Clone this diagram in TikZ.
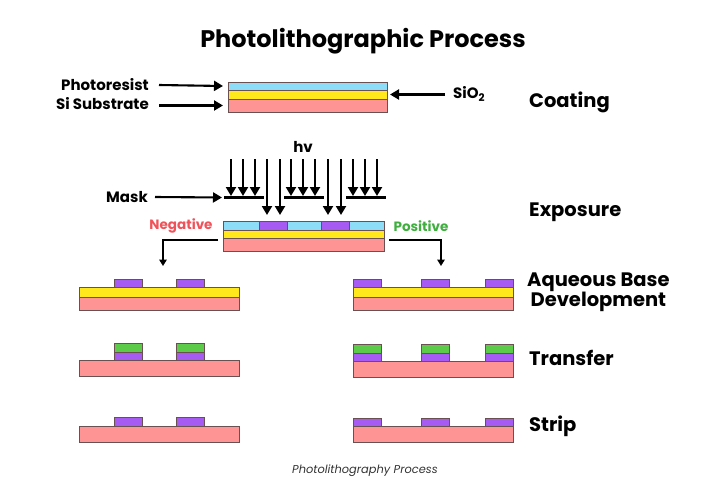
\documentclass[tikz,border=0pt]{standalone}
\usepackage{fontspec}
\setmainfont{Poppins}
\usetikzlibrary{arrows.meta}
\definecolor{cya}{HTML}{8EDDF8}
\definecolor{yel}{HTML}{FFE81C}
\definecolor{pnk}{HTML}{FF9494}
\definecolor{pur}{HTML}{A65CF2}
\definecolor{grn}{HTML}{5CCB4A}
\definecolor{negc}{HTML}{F0525A}
\definecolor{posc}{HTML}{3FAE3F}
\definecolor{edge}{HTML}{6A5050}
\newcommand\lay[6]{\node[lay,fill=#2,minimum width=#5pt,minimum height=#6pt] (#1) at (#3,#4) {};}
\begin{document}
\begin{tikzpicture}[x=1pt,y=-1pt,
  lay/.style={draw=edge,line width=0.5pt,inner sep=0pt,outer sep=0pt,anchor=north west},
  arr/.style={line width=2.1pt,-{Triangle[length=9pt,width=10pt]}},
  sarr/.style={line width=2pt,-{Triangle[length=9pt,width=10pt]}},
  barr/.style={line width=1.8pt,-{Triangle[length=6.5pt,width=7.5pt]}},
  masks/.style={fill=black,inner sep=0pt,outer sep=0pt,minimum height=3pt,anchor=west},
  lbl/.style={font=\fontsize{15}{17}\selectfont\bfseries,inner sep=0pt},
  step lbl/.style={font=\fontsize{19.5}{20.5}\selectfont\bfseries,inner sep=0pt,anchor=west,align=center}]
\useasboundingbox (0,0) rectangle (720,501);
\node[font=\fontsize{24}{26}\selectfont\bfseries] (title) at (363,41) {Photolithographic Process};
% Coating stack
\lay{cPk}{pnk}{228}{99}{159}{13}
\lay{cYe}{yel}{228}{90}{159}{9}
\lay{cCy}{cya}{228}{82}{159}{8}
\node[lbl,anchor=east] (pr) at (149,85) {Photoresist};
\node[lbl,anchor=east] (si) at (149,104) {Si Substrate};
\node[lbl,anchor=west] (sio) at (453,94) {SiO\textsubscript{2}};
\draw[arr] ([xshift=10pt]pr.east) -- ([xshift=-5pt]cCy.west);
\draw[arr] ([xshift=10pt]si.east |- cPk.west) -- ([xshift=-5pt]cPk.west);
\draw[arr] ([xshift=-8pt]sio.west |- cYe.east) -- ([xshift=3pt]cYe.east);
\node[step lbl] (coat) at (529,102) {Coating};
% Exposure
\lay{ePk}{pnk}{223}{238}{161}{13}
\lay{eYe}{yel}{223}{230}{161}{8}
\lay{eCy}{cya}{223}{221}{161}{9}
\lay{eP1}{pur}{259}{221}{28}{9}
\lay{eP2}{pur}{321}{221}{28}{9}
\node[masks,minimum width=40pt] (m1) at (224,197.5) {};
\node[masks,minimum width=40pt] (m2) at (284,197.5) {};
\node[masks,minimum width=40pt] (m3) at (346,197.5) {};
\node[lbl] (hv) at (303,147) {hv};
\foreach \xx in {231,243,255} \draw[sarr] (\xx,159) -- (\xx,159 |- m1.north);
\foreach \xx in {291,303,315} \draw[sarr] (\xx,159) -- (\xx,159 |- m2.north);
\foreach \xx in {353,365,377} \draw[sarr] (\xx,159) -- (\xx,159 |- m3.north);
\foreach \xx in {267,280} \draw[sarr] (\xx,159) -- ([yshift=6pt]\xx,159 |- eP1.north);
\foreach \xx in {328,341} \draw[sarr] (\xx,159) -- ([yshift=6pt]\xx,159 |- eP2.north);
\node[lbl,anchor=east] (mask) at (148,197) {Mask};
\draw[arr] ([xshift=7pt]mask.east) -- ([xshift=-2pt]m1.west);
\node[step lbl] (expo) at (529,212) {Exposure};
\node[lbl,font=\fontsize{13.5}{15}\selectfont\bfseries,text=negc] (neg) at (181,226) {Negative};
\node[lbl,font=\fontsize{13.5}{15}\selectfont\bfseries,text=posc] (pos) at (421,226) {Positive};
\coordinate (negTip) at (163,266);
\coordinate (posTip) at (441,266);
\draw[barr] ([xshift=-5pt,yshift=-2pt]ePk.north west) -| (negTip);
\draw[barr] ([xshift=5pt,yshift=-2pt]ePk.north east) -| (posTip);
% Negative side
\lay{nAPk}{pnk}{79}{297}{160}{13}
\lay{nAYe}{yel}{79}{287}{160}{10}
\lay{nAP1}{pur}{114}{279}{28}{8}
\lay{nAP2}{pur}{176}{279}{28}{8}
\lay{nTPk}{pnk}{79}{360}{160}{16}
\lay{nTP1}{pur}{114}{352}{28}{8}
\lay{nTP2}{pur}{176}{352}{28}{8}
\lay{nTG1}{grn}{114}{343}{28}{9}
\lay{nTG2}{grn}{176}{343}{28}{9}
\lay{nSPk}{pnk}{79}{426}{160}{16}
\lay{nSP1}{pur}{114}{417}{28}{9}
\lay{nSP2}{pur}{176}{417}{28}{9}
% Positive side
\lay{pAPk}{pnk}{353}{297}{160}{13}
\lay{pAYe}{yel}{353}{287}{160}{10}
\lay{pAP1}{pur}{353}{279}{28}{8}
\lay{pAP2}{pur}{421}{279}{28}{8}
\lay{pAP3}{pur}{485}{279}{28}{8}
\lay{pTPk}{pnk}{353}{361}{160}{16}
\lay{pTP1}{pur}{353}{353}{28}{8}
\lay{pTP2}{pur}{421}{353}{28}{8}
\lay{pTP3}{pur}{485}{353}{28}{8}
\lay{pTG1}{grn}{353}{344}{28}{9}
\lay{pTG2}{grn}{421}{344}{28}{9}
\lay{pTG3}{grn}{485}{344}{28}{9}
\lay{pSPk}{pnk}{353}{426}{160}{16}
\lay{pSP1}{pur}{353}{418}{28}{8}
\lay{pSP2}{pur}{421}{418}{28}{8}
\lay{pSP3}{pur}{485}{418}{28}{8}
% step labels
\node[step lbl] (aq) at (527,292) {Aqueous Base\\Development};
\node[step lbl] (tr) at (529,358) {Transfer};
\node[step lbl] (st) at (529,426) {Strip};
\node[font=\fontsize{11.4}{13}\selectfont\itshape,text=black!80,inner sep=0pt] (cap) at (365,471) {Photolithography Process};
\end{tikzpicture}
\end{document}
